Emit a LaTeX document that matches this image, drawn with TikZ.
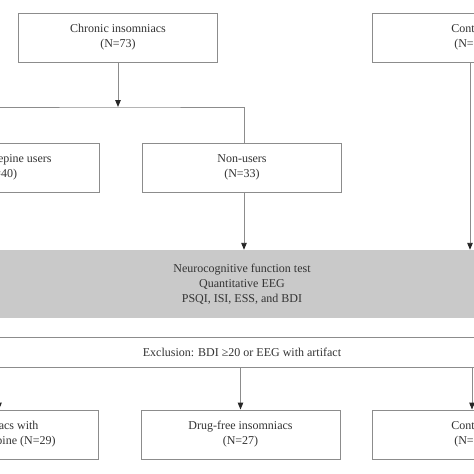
\documentclass[tikz,border=0pt]{standalone}
\usepackage{fontspec}
\setmainfont{Liberation Serif}
\usetikzlibrary{arrows.meta}
\definecolor{linec}{HTML}{8C8C8C}
\definecolor{textc}{HTML}{333333}
\definecolor{fillc}{HTML}{C9C9C9}
\tikzset{
  box/.style={draw=linec, line width=0.9pt, minimum width=199pt, minimum height=49pt,
    align=center, text=textc, font=\fontsize{12}{15}\selectfont, inner sep=0pt},
  band/.style={minimum width=520pt, align=center, text=textc,
    font=\fontsize{12}{15}\selectfont, inner sep=0pt},
  conn/.style={draw=linec, line width=0.9pt},
  arr/.style={conn, -{Triangle[length=7pt,width=5.5pt,color=black!85]}}
}
\begin{document}
\begin{tikzpicture}[x=1pt,y=-1pt]
\useasboundingbox (0,0) rectangle (474,474);
\clip (0,0) rectangle (474,474);
\fill[white] (0,0) rectangle (474,474);
% top row
\node[box] (chronic) at (118,37.5) {Chronic insomniacs\\(N=73)};
\node[box] (controls) at (472,37.5) {Controls\\(N=25)};
% second row
\node[box] (benzo) at (-0.5,167.5) {Benzodiazepine users\\(N=40)};
\node[box] (nonusers) at (242,167.5) {Non-users\\(N=33)};
% tests band
\node[band, fill=fillc, minimum height=68pt] (tests) at (237,284)
  {\hspace*{10pt}Neurocognitive function test\\\hspace*{10pt}Quantitative EEG\\\hspace*{10pt}PSQI, ISI, ESS, and BDI};
% exclusion band
\node[band, draw=linec, line width=0.9pt, minimum height=30pt] (excl) at (237,352)
  {\hspace*{10pt}Exclusion: BDI ≥20 or EEG with artifact};
% bottom row
\node[box] (benzob) at (-1,434.5) {Insomniacs with\\benzodiazepine (N=29)};
\node[box] (drugfree) at (240.5,434.5) {Drug-free insomniacs\\(N=27)};
\node[box] (controlsb) at (472,434.5) {Controls\\(N=25)};
% connectors
\coordinate (j) at (chronic.south |- 0,107);
\draw[arr] (chronic.south) -- (j);
\draw[conn] (benzo.north) |- (j) -| ([xshift=2pt]nonusers.north);
\draw[arr] ([xshift=2pt]nonusers.south) -- ([xshift=2pt]nonusers.south |- tests.north);
\draw[arr] ([xshift=-2pt]controls.south) -- ([xshift=-2pt]controls.south |- tests.north);
\draw[arr] (benzob.north |- excl.south) -- (benzob.north);
\draw[arr] (drugfree.north |- excl.south) -- (drugfree.north);
\draw[arr] (controlsb.north |- excl.south) -- (controlsb.north);
\end{tikzpicture}
\end{document}
